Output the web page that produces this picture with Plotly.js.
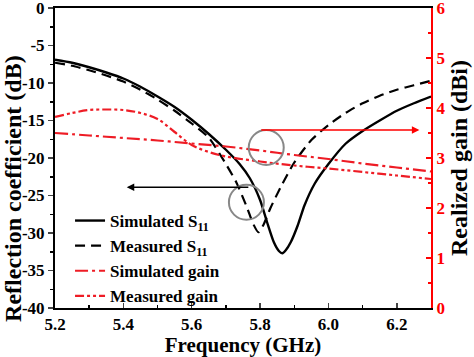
<!DOCTYPE html>
<html><head><meta charset="utf-8">
<script src="https://cdn.plot.ly/plotly-3.0.1.min.js"></script>
</head><body style="margin:0">
<div id="chart" style="width:474px;height:357px"></div>
<script>
const simS11Freq = [5.20,5.25,5.30,5.35,5.40,5.45,5.50,5.55,5.60,5.65,5.70,5.74,5.77,5.80,5.82,5.84,5.855,5.865,5.875,5.89,5.91,5.93,5.96,6.00,6.05,6.10,6.15,6.20,6.25,6.30];
const simS11 = [-6.9,-7.3,-7.9,-8.6,-9.4,-10.5,-11.8,-13.2,-14.9,-16.8,-18.9,-20.8,-22.7,-25.6,-28.5,-31.2,-32.4,-32.7,-32.3,-31.2,-29.0,-26.3,-23.4,-20.8,-18.1,-16.4,-15.0,-13.7,-12.7,-11.8];
const measS11Freq = [5.20,5.25,5.30,5.35,5.40,5.45,5.50,5.55,5.60,5.65,5.70,5.73,5.76,5.78,5.795,5.81,5.83,5.86,5.90,5.95,6.00,6.05,6.10,6.15,6.20,6.25,6.30];
const measS11 = [-7.3,-7.7,-8.3,-9.0,-9.8,-10.9,-12.2,-13.7,-15.4,-17.3,-20.8,-23.2,-26.4,-28.8,-29.9,-28.9,-26.7,-23.9,-20.6,-17.6,-15.6,-14.0,-12.7,-11.7,-10.9,-10.3,-9.7];
const simGainFreq = [5.2,5.3,5.4,5.5,5.6,5.7,5.8,5.9,6.0,6.1,6.2,6.3];
const simGain = [3.50,3.45,3.40,3.35,3.29,3.23,3.15,3.06,2.98,2.89,2.81,2.73];
const measGainFreq = [5.20,5.25,5.30,5.35,5.40,5.45,5.50,5.55,5.60,5.65,5.70,5.80,5.90,6.00,6.10,6.20,6.30];
const measGain = [3.82,3.90,3.96,3.97,3.96,3.90,3.78,3.52,3.26,3.12,3.03,2.93,2.85,2.79,2.72,2.65,2.58];
const xTicks = [5.2,5.4,5.6,5.8,6.0,6.2];
const xTickText = ['5.2','5.4','5.6','5.8','6.0','6.2'];
const yTicks = [0,-5,-10,-15,-20,-25,-30,-35,-40];
const yTickText = ['0','-5','-10','-15','-20','-25','-30','-35','-40'];
const y2Ticks = [0,1,2,3,4,5,6];
const y2TickText = ['0','1','2','3','4','5','6'];

const FONT = 'Liberation Serif';
const RED = '#ee1c25';
const traces = [
  {x: simS11Freq, y: simS11, name: 'Simulated S<sub>11</sub>', mode: 'lines', line: {color: '#000', width: 2.4, shape: 'spline', smoothing: 0.6}},
  {x: measS11Freq, y: measS11, name: 'Measured S<sub>11</sub>', mode: 'lines', line: {color: '#000', width: 2.2, dash: '10px,6px', shape: 'spline', smoothing: 0.6}},
  {x: simGainFreq, y: simGain, name: 'Simulated gain', yaxis: 'y2', mode: 'lines', line: {color: RED, width: 2.2, dash: '13px,4px,3px,4px', shape: 'spline'}},
  {x: measGainFreq, y: measGain, name: 'Measured gain', yaxis: 'y2', mode: 'lines', line: {color: RED, width: 2.2, dash: '9px,3px,3px,3px,3px,3px', shape: 'spline'}}
];
const layout = {
  width: 474, height: 357,
  margin: {l: 55, r: 43, t: 8, b: 49},
  paper_bgcolor: '#fff', plot_bgcolor: '#fff',
  font: {family: FONT, size: 17, color: '#000', weight: 700},
  showlegend: true,
  legend: {x: 0.04, y: 0.35, xanchor: 'left', yanchor: 'top', bgcolor: 'rgba(0,0,0,0)',
    font: {family: FONT, size: 17, color: '#000', weight: 700}, tracegroupgap: 0},
  xaxis: {range: [5.2, 6.3], tickvals: xTicks, ticktext: xTickText, ticks: 'inside', ticklen: 5, tickwidth: 1.5,
    showline: true, linecolor: '#000', linewidth: 2, mirror: true, showgrid: false, zeroline: false,
    minor: {ticks: 'inside', ticklen: 3, dtick: 0.1, tickwidth: 1.5, tickcolor: '#000'},
    ticklabeloverflow: 'allow',
    title: {text: 'Frequency (GHz)', font: {family: FONT, size: 21, color: '#000', weight: 700}, standoff: 4},
    tickfont: {family: FONT, size: 17, color: '#000', weight: 700}},
  yaxis: {range: [-40, 0], tickvals: yTicks, ticktext: yTickText, ticks: 'outside', ticklen: 5, tickwidth: 1.5,
    showline: true, linecolor: '#000', linewidth: 2, showgrid: false, zeroline: false,
    minor: {ticks: 'outside', ticklen: 3, dtick: 2.5, tickwidth: 1.5, tickcolor: '#000'},
    ticklabeloverflow: 'allow',
    tickfont: {family: FONT, size: 17, color: '#000', weight: 700}},
  yaxis2: {range: [0, 6], overlaying: 'y', side: 'right', tickvals: y2Ticks, ticktext: y2TickText, ticks: 'inside', ticklen: 5, tickwidth: 1.5,
    tickcolor: 'red', showline: true, linecolor: 'red', linewidth: 2, showgrid: false, zeroline: false,
    minor: {ticks: 'inside', ticklen: 3, dtick: 0.5, tickwidth: 1.5, tickcolor: 'red'},
    ticklabeloverflow: 'allow',
    tickfont: {family: FONT, size: 17, color: 'red', weight: 700},
    title: {text: 'Realized gain (dBi)', font: {family: FONT, size: 24, color: '#000', weight: 700}, standoff: 6}},
  annotations: [
    {xref: 'paper', yref: 'paper', x: -0.112, y: 0.4, xanchor: 'center', yanchor: 'middle', textangle: -90, showarrow: false,
     text: 'Reflection coefficient (dB)', font: {family: FONT, size: 24, color: '#000', weight: 700}},
    {xref: 'x', yref: 'y', axref: 'x', ayref: 'y', x: 5.41, y: -23.9, ax: 5.77, ay: -23.9, text: '', showarrow: true,
     arrowhead: 2, arrowsize: 1, arrowwidth: 1.5, arrowcolor: '#000'},
    {xref: 'x', yref: 'y2', axref: 'x', ayref: 'y2', x: 6.266, y: 3.56, ax: 5.799, ay: 3.56, text: '', showarrow: true,
     arrowhead: 2, arrowsize: 1, arrowwidth: 1.5, arrowcolor: 'red'}
  ],
  shapes: [
    {type: 'circle', xref: 'x', yref: 'y', xsizemode: 'pixel', ysizemode: 'pixel', xanchor: 5.760, yanchor: -25.9,
     x0: -17.5, x1: 17.5, y0: -17.5, y1: 17.5, line: {color: '#888', width: 2}},
    {type: 'circle', xref: 'x', yref: 'y', xsizemode: 'pixel', ysizemode: 'pixel', xanchor: 5.818, yanchor: -18.6,
     x0: -17.5, x1: 17.5, y0: -17.5, y1: 17.5, line: {color: '#888', width: 2}}
  ]
};
Plotly.newPlot('chart', traces, layout, {displayModeBar: false, staticPlot: true});
</script></body></html>
